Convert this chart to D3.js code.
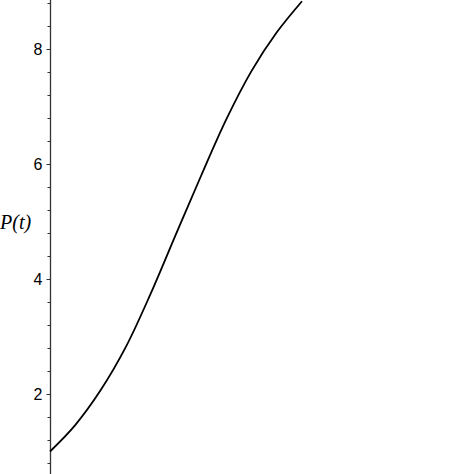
<!DOCTYPE html>
<meta charset="utf-8">
<html>
  <head>
    <script src="https://cdn.jsdelivr.net/npm/d3@7"></script>
    <style>
      body { margin: 0; background: #fff; }
      svg { display: block; }
    </style>
  </head>
  <body>
    <div id="chart"></div>

    <script type="text/javascript">
      // values
      var tValues = [0, 1, 2, 3, 4, 5, 6, 7, 8, 9, 10],
          pValues = [1.00, 1.46, 2.06, 2.81, 3.75, 4.78, 5.80, 6.78, 7.62, 8.29, 8.83],
          majorTicks = [2, 4, 6, 8],
          minorTicks = [0.4, 0.8, 1.2, 1.6, 2.4, 2.8, 3.2, 3.6, 4.4, 4.8, 5.2, 5.6, 6.4, 6.8, 7.2, 7.6, 8.4, 8.8],
          yLabel = "P(t)";

      var width = 474,
          height = 474;

      var data = tValues.map(function(t, i) { return { t: t, p: pValues[i] }; });

      var x = d3.scaleLinear().domain([0, 10]).range([50, 302]);
      var y = d3.scaleLinear().domain([0, 8]).range([509, 49]);

      var svg = d3.select("#chart").append("svg")
          .attr("width", width)
          .attr("height", height);

      // axis line runs the full height of the picture
      svg.append("line")
          .attr("x1", 50.5).attr("x2", 50.5)
          .attr("y1", 0).attr("y2", height)
          .style("stroke", "#333")
          .style("stroke-width", "1.3px");

      var major = d3.axisLeft(y).tickValues(majorTicks).tickSize(4).tickPadding(4)
          .tickFormat(d3.format("d"));
      var minor = d3.axisLeft(y).tickValues(minorTicks).tickSize(3).tickFormat("");

      var gMinor = svg.append("g").attr("transform", "translate(50.5,0)").call(minor);
      var gMajor = svg.append("g").attr("transform", "translate(50.5,0)").call(major);

      [gMinor, gMajor].forEach(function(g) {
        g.select(".domain").remove();
        g.selectAll("line").style("stroke", "#333").style("stroke-width", "1px");
      });

      gMajor.selectAll("text")
          .style("font-family", "Liberation Sans, Arial, sans-serif")
          .style("font-size", "16px")
          .style("fill", "#000");

      svg.append("text")
          .attr("x", 0)
          .attr("y", 229)
          .text(yLabel)
          .style("font-family", "Liberation Serif, Times New Roman, serif")
          .style("font-style", "italic")
          .style("font-size", "20px")
          .style("fill", "#000");

      var line = d3.line()
          .x(function(d) { return x(d.t); })
          .y(function(d) { return y(d.p); })
          .curve(d3.curveCatmullRom);

      svg.append("path")
          .datum(data)
          .attr("d", line)
          .style("fill", "none")
          .style("stroke", "#000")
          .style("stroke-width", "1.8px");
    </script>
  </body>
</html>
